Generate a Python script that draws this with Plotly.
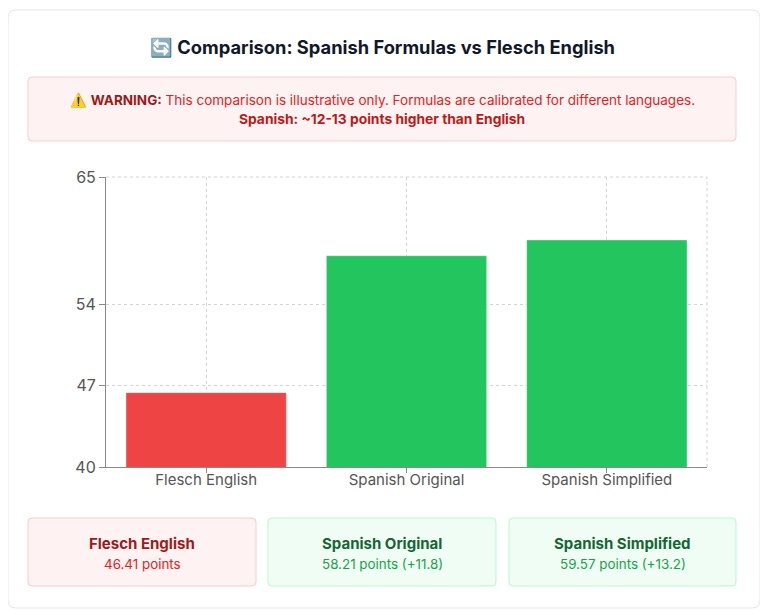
import plotly.graph_objects as go

categories = ["Flesch English", "Spanish Original", "Spanish Simplified"]
scores = [46.41, 58.21, 59.57]
bar_colors = ["#ef4444", "#22c55e", "#22c55e"]
y_ticks = [40, 47, 54, 65]
y_range = [40, 65]

title_text = "🔄 Comparison: Spanish Formulas vs Flesch English"
warning_line1 = "This comparison is illustrative only. Formulas are calibrated for different languages."
warning_line2 = "Spanish: ~12-13 points higher than English"

W, H = 768, 614
FONT = "Inter, Roboto, 'Noto Sans', sans-serif"
OFF_X, OFF_Y = 8, 8


def px(x):
    return (x - OFF_X) / W


def py(y):
    return 1 - (y - OFF_Y) / H


def rounded(x0, y0, x1, y1, r):
    X0, X1 = px(x0), px(x1)
    Y0, Y1 = py(y0), py(y1)
    rx, ry = r / W, r / H
    return (f"M {X0+rx},{Y0} L {X1-rx},{Y0} Q {X1},{Y0} {X1},{Y0-ry} "
            f"L {X1},{Y1+ry} Q {X1},{Y1} {X1-rx},{Y1} L {X0+rx},{Y1} "
            f"Q {X0},{Y1} {X0},{Y1+ry} L {X0},{Y0-ry} Q {X0},{Y0} {X0+rx},{Y0} Z")


fig = go.Figure()
fig.add_trace(go.Bar(
    x=categories, y=scores,
    marker=dict(color=bar_colors, line=dict(color="rgba(255,255,255,0.35)", width=1)),
    width=0.8, hoverinfo="x+y",
))

shapes = []
shapes.append(dict(type="path", path=rounded(8, 10, 760, 608, 8), xref="paper", yref="paper",
                   line=dict(color="#e3e5e8", width=1), fillcolor="white", layer="below"))
shapes.append(dict(type="path", path=rounded(28, 77, 736, 141, 4), xref="paper", yref="paper",
                   line=dict(color="#fecaca", width=1), fillcolor="#fef2f2", layer="below"))
shapes.append(dict(type="line", xref="x domain", yref="y domain", x0=0, x1=1, y0=1, y1=1,
                   line=dict(color="#d4d4d4", width=1, dash="dot")))
shapes.append(dict(type="line", xref="x domain", yref="y domain", x0=1, x1=1, y0=0, y1=1,
                   line=dict(color="#d4d4d4", width=1, dash="dot")))

cards = [(28, 256), (268, 496), (509, 736)]
card_styles = [
    ("#fef2f2", "#fecaca", "#991b1b", "#dc2626"),
    ("#f0fdf4", "#bbf7d0", "#166534", "#16a34a"),
    ("#f0fdf4", "#bbf7d0", "#166534", "#16a34a"),
]
annotations = []
base = scores[0]
for i, ((x0, x1), (bg, bd, tc, vc)) in enumerate(zip(cards, card_styles)):
    shapes.append(dict(type="path", path=rounded(x0, 518, x1, 586, 4), xref="paper", yref="paper",
                       line=dict(color=bd, width=1), fillcolor=bg, layer="below"))
    cx = (x0 + x1) / 2
    annotations.append(dict(text=f"<b>{categories[i]}</b>", x=px(cx), y=py(543), xref="paper", yref="paper",
                            showarrow=False, font=dict(family=FONT, size=15, color=tc),
                            xanchor="center", yanchor="middle"))
    if i == 0:
        val = f"{scores[i]:.2f} points"
    else:
        val = f"{scores[i]:.2f} points (+{scores[i]-base:.1f})"
    annotations.append(dict(text=val, x=px(cx), y=py(564), xref="paper", yref="paper",
                            showarrow=False, font=dict(family=FONT, size=13.4, color=vc),
                            xanchor="center", yanchor="middle"))

annotations.append(dict(text=f"<b>{title_text}</b>", x=px(382), y=py(47), xref="paper", yref="paper",
                        showarrow=False, font=dict(family=FONT, size=18.3, color="#111827"),
                        xanchor="center", yanchor="middle"))
annotations.append(dict(text=f"⚠️ <b><span style='color:#991b1b'>WARNING:</span></b> {warning_line1}",
                        x=px(382), y=py(100),
                        xref="paper", yref="paper", showarrow=False,
                        font=dict(family=FONT, size=13.5, color="#dc2626"),
                        xanchor="center", yanchor="middle"))
annotations.append(dict(text=f"<b>{warning_line2}</b>", x=px(382), y=py(119),
                        xref="paper", yref="paper", showarrow=False,
                        font=dict(family=FONT, size=13.8, color="#b91c1c"),
                        xanchor="center", yanchor="middle"))

fig.update_layout(
    width=W, height=H,
    margin=dict(l=0, r=0, t=0, b=0, autoexpand=False),
    paper_bgcolor="white", plot_bgcolor="white",
    showlegend=False,
    shapes=shapes, annotations=annotations,
    bargap=0.2,
    xaxis=dict(domain=[px(106), px(707)], showgrid=True, gridcolor="#d4d4d4", griddash="dot",
               showline=True, linecolor="#8a8a8a", linewidth=1, automargin=False,
               ticks="outside", ticklen=5, tickcolor="#8a8a8a", ticklabelstandoff=-6,
               tickfont=dict(family=FONT, size=15, color="#555555"), fixedrange=True),
    yaxis=dict(domain=[py(467), py(177)], range=y_range, tickvals=y_ticks,
               showgrid=True, gridcolor="#d4d4d4", griddash="dot", zeroline=False,
               showline=True, linecolor="#8a8a8a", linewidth=1, automargin=False,
               ticks="outside", ticklen=6, tickcolor="#8a8a8a",
               tickfont=dict(family=FONT, size=16, color="#555555"), fixedrange=True),
)

fig.write_html("out.html")
